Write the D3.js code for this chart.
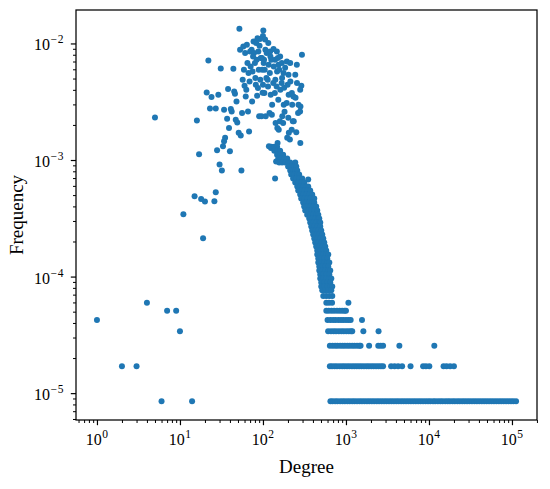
<!DOCTYPE html>
<html><head><meta charset="utf-8">
<script src="https://cdn.jsdelivr.net/npm/d3@7"></script>
<style>body{margin:0;background:#fff}svg{display:block}</style>
</head><body><svg id="c" width="550" height="489"></svg>
<script>
// ---- data: degree / frequency ----
const lowDegree = [1, 2, 3, 4, 5, 6, 7, 9, 10, 11, 14, 15, 16, 17, 18, 19, 20, 26, 27];
const lowFreq = [4.25e-5, 1.70e-5, 1.70e-5, 5.95e-5, 2.32e-3, 8.50e-6, 5.10e-5, 5.10e-5, 3.40e-5, 3.43e-4,
  8.50e-6, 4.89e-4, 2.18e-3, 1.12e-3, 4.64e-4, 2.13e-4, 4.40e-4, 4.42e-4, 5.28e-4];

const clusterDegree = [52, 101, 100, 92, 86, 77, 83, 106, 116, 58, 64, 53, 61, 70, 73, 78, 88, 107, 111, 122,
  134, 147, 97, 123, 140, 161, 76, 84, 22, 31, 44, 65, 71, 80, 102, 117, 135, 154, 169, 194,
  213, 256, 295, 59, 67, 75, 89, 105, 121, 148, 177, 203, 57, 69, 81, 93, 110, 141, 170, 214,
  257, 21, 24, 29, 38, 45, 46, 48, 62, 63, 82, 87, 100, 115, 133, 146, 168, 290, 104, 124,
  139, 162, 204, 223, 233, 281, 74, 178, 193, 268, 280, 23, 27, 34, 41, 42, 56, 66, 90, 96,
  108, 120, 128, 171, 202, 47, 49, 39, 68, 51, 54, 35, 34, 142, 160, 175, 235, 149, 155, 205,
  222, 282, 196, 211, 150, 28, 40, 30, 32, 55, 125, 252, 229, 283, 265, 37, 118, 91, 126, 98,
  157, 185, 114, 180, 99, 153, 225, 198, 245, 129, 85, 60, 182, 247, 103, 151, 94, 33];
const clusterFreq = [1.34e-2, 1.29e-2, 1.16e-2, 1.09e-2, 1.11e-2, 1.04e-2, 1.01e-2, 1.08e-2, 1.01e-2, 9.43e-3,
  9.75e-3, 8.83e-3, 8.28e-3, 8.54e-3, 8.83e-3, 8.28e-3, 8.54e-3, 8.83e-3, 8.28e-3, 8.54e-3,
  8.95e-3, 8.54e-3, 7.50e-3, 7.74e-3, 7.25e-3, 7.74e-3, 7.74e-3, 7.25e-3, 7.15e-3, 6.11e-3,
  6.07e-3, 6.79e-3, 6.35e-3, 6.79e-3, 6.79e-3, 6.57e-3, 6.35e-3, 6.57e-3, 6.79e-3, 7.01e-3,
  6.79e-3, 6.57e-3, 8.00e-3, 5.95e-3, 5.58e-3, 5.75e-3, 5.95e-3, 5.95e-3, 5.58e-3, 5.75e-3,
  5.58e-3, 5.39e-3, 4.89e-3, 4.72e-3, 5.05e-3, 4.89e-3, 5.05e-3, 4.89e-3, 5.05e-3, 4.72e-3,
  4.58e-3, 3.80e-3, 3.47e-3, 3.63e-3, 4.07e-3, 3.88e-3, 3.71e-3, 3.18e-3, 3.51e-3, 4.01e-3,
  4.43e-3, 4.15e-3, 4.43e-3, 4.28e-3, 4.58e-3, 4.28e-3, 4.58e-3, 4.34e-3, 3.76e-3, 3.63e-3,
  3.76e-3, 4.01e-3, 3.63e-3, 3.76e-3, 3.51e-3, 4.01e-3, 3.18e-3, 2.98e-3, 3.09e-3, 2.98e-3,
  2.61e-3, 2.76e-3, 2.76e-3, 2.70e-3, 2.74e-3, 2.61e-3, 2.53e-3, 2.61e-3, 2.37e-3, 2.37e-3,
  2.37e-3, 2.53e-3, 2.45e-3, 2.37e-3, 2.30e-3, 2.22e-3, 2.10e-3, 1.88e-3, 1.76e-3, 1.71e-3,
  1.62e-3, 1.55e-3, 1.45e-3, 2.08e-3, 2.15e-3, 2.08e-3, 2.15e-3, 1.88e-3, 1.82e-3, 1.71e-3,
  1.82e-3, 1.40e-3, 1.55e-3, 1.50e-3, 1.40e-3, 1.21e-3, 1.19e-3, 9.13e-4, 8.11e-4, 8.11e-4,
  1.27e-3, 1.73e-3, 2.15e-3, 2.88e-3, 2.53e-3, 2.26e-3, 1.31e-3, 9.56e-3, 7.25e-3, 5.95e-3,
  5.95e-3, 6.19e-3, 4.89e-3, 4.17e-3, 3.78e-3, 3.29e-3, 2.98e-3, 4.43e-3, 5.39e-3, 2.98e-3,
  3.56e-3, 4.34e-3, 2.60e-3, 3.42e-3, 7.25e-3, 7.50e-3, 7.50e-3, 1.31e-3];

// steep fall-off: one frequency level per row, with the degrees seen on it
const rowFreq = [1.30e-3, 1.20e-3, 1.11e-3, 1.03e-3, 9.70e-4, 9.50e-4, 8.78e-4, 8.11e-4, 7.50e-4, 6.93e-4,
  6.80e-4, 6.40e-4, 5.92e-4, 5.47e-4, 5.05e-4, 4.67e-4, 4.32e-4, 3.99e-4, 3.68e-4, 3.40e-4,
  3.15e-4, 2.91e-4, 2.69e-4, 2.48e-4, 2.30e-4, 2.12e-4, 1.96e-4, 1.81e-4, 1.67e-4, 1.55e-4,
  1.43e-4, 1.32e-4, 1.22e-4, 1.13e-4, 1.04e-4, 9.63e-5, 8.90e-5, 8.22e-5, 7.65e-5, 6.80e-5];
const rowDegrees = [
  [126, 137, 148], [137, 148, 161], [148, 161, 175], [153, 166, 180, 196], [144],
  [157, 170, 185, 201, 213, 245], [201, 219, 238, 252], [213, 231, 245, 259], [219, 238, 259, 273],
  [140, 231, 252, 273, 297], [351], [245, 266, 289, 314], [259, 281, 305, 332, 351],
  [266, 289, 314, 341, 371], [281, 305, 332, 361, 392], [289, 314, 341, 371, 403, 415],
  [305, 332, 361, 392, 415], [314, 341, 371, 403, 438], [323, 351, 382, 415, 451],
  [341, 371, 403, 438, 464], [361, 392, 426, 464, 477], [371, 403, 438, 477, 490],
  [382, 415, 451, 490], [392, 426, 464, 504], [403, 438, 477, 518], [415, 451, 490, 533],
  [426, 464, 504, 548], [438, 477, 518, 563], [451, 490, 533, 579], [451, 490, 533, 579, 612],
  [464, 504, 548, 595], [464, 504, 548, 595, 630], [477, 518, 563, 612], [477, 518, 563, 612, 647],
  [490, 533, 579, 630], [490, 533, 579, 630, 666], [504, 548, 595, 647], [504, 548, 595, 647, 684],
  [518, 563, 612, 666], [533, 579, 630, 684]];

// horizontal bands of the rarest frequencies (1 .. 7 nodes)
const bandFreq = [8.50e-6, 1.70e-5, 2.55e-5, 3.40e-5, 4.25e-5, 5.10e-5, 5.95e-5];
const bandDegrees = [
  [650, 690, 740, 790, 850, 910, 970, 1040, 1110, 1190, 1270, 1360, 1460, 1560, 1670, 1790, 1910,
   2050, 2190, 2350, 2510, 2690, 2880, 3080, 3300, 3530, 3780, 4040, 4320, 4630, 4950, 5300, 5670,
   6070, 6490, 6950, 7430, 7950, 8510, 9110, 9750, 10400, 11200, 11900, 12800, 13700, 14600, 15700,
   16800, 17900, 19200, 20500, 22000, 23500, 25200, 26900, 28800, 30800, 33000, 35300, 37800, 40400,
   43300, 46300, 49500, 53000, 56700, 60700, 64900, 69500, 74300, 79500, 85100, 91000, 97400, 104000, 112000],
  [640, 680, 730, 780, 840, 900, 960, 1030, 1100, 1180, 1260, 1350, 1440, 1540, 1650, 1770, 1890,
   2020, 2160, 2310, 2470, 2640, 2800, 3500, 3850, 4250, 4750, 6000, 8500, 9200, 10100, 15000, 16300, 18000, 20000],
  [640, 690, 740, 790, 850, 910, 970, 1040, 1110, 1190, 1270, 1360, 1450, 1500, 1900, 2450, 2620, 2800, 4400, 11600],
  [610, 660, 710, 760, 820, 880, 940, 1010, 1080, 1150, 1190, 1620, 2470],
  [600, 650, 700, 750, 810, 870, 930, 1000, 1070, 1140, 1560],
  [580, 620, 670, 720, 780, 840, 900, 960, 1000],
  [580, 625, 680, 1070]];

const xTickExp = [0, 1, 2, 3, 4, 5];
const yTickExp = [-5, -4, -3, -2];

// ---- assemble points ----
const pts = [];
lowDegree.forEach((d, i) => pts.push([d, lowFreq[i]]));
clusterDegree.forEach((d, i) => pts.push([d, clusterFreq[i]]));
rowFreq.forEach((f, i) => rowDegrees[i].forEach(d => pts.push([d, f])));
bandFreq.forEach((f, i) => bandDegrees[i].forEach(d => pts.push([d, f])));

const L = 76, R = 537, T = 10, B = 420;
const lxe = d3.extent(pts, p => Math.log10(p[0]));
const lye = d3.extent(pts, p => Math.log10(p[1]));
const px = (lxe[1] - lxe[0]) * 0.05, py = (lye[1] - lye[0]) * 0.05;
const x = d3.scaleLog().domain([10 ** (lxe[0] - px), 10 ** (lxe[1] + px)]).range([L, R]);
const y = d3.scaleLog().domain([10 ** (lye[0] - py), 10 ** (lye[1] + py)]).range([B, T]);

const svg = d3.select("#c");
const font = "'Liberation Serif','Times New Roman',serif";

svg.append("g").selectAll("circle").data(pts).join("circle")
  .attr("cx", p => x(p[0])).attr("cy", p => y(p[1])).attr("r", 3)
  .attr("fill", "#1f77b4");

// minor tick values
function minors(scale, e0, e1) {
  const [a, b] = scale.domain(); const out = [];
  for (let e = e0; e <= e1; e++) for (let k = 2; k <= 9; k++) {
    const v = k * 10 ** e; if (v >= Math.min(a, b) && v <= Math.max(a, b)) out.push(v);
  }
  return out;
}
const xMajor = xTickExp.map(e => 10 ** e), yMajor = yTickExp.map(e => 10 ** e);

function styleAxis(g) { g.select(".domain").remove(); g.selectAll("line").attr("stroke", "#000").attr("stroke-width", 1.2); g.selectAll("text").remove(); }

svg.append("g").attr("transform", `translate(0,${B})`)
  .call(d3.axisBottom(x).tickValues(xMajor).tickSize(5.2).tickFormat("")).call(styleAxis);
svg.append("g").attr("transform", `translate(0,${B})`)
  .call(d3.axisBottom(x).tickValues(minors(x, -1, 5)).tickSize(3).tickFormat("")).call(g => { styleAxis(g); g.selectAll("line").attr("stroke-width", 1); });
svg.append("g").attr("transform", `translate(${L},0)`)
  .call(d3.axisLeft(y).tickValues(yMajor).tickSize(5.2).tickFormat("")).call(styleAxis);
svg.append("g").attr("transform", `translate(${L},0)`)
  .call(d3.axisLeft(y).tickValues(minors(y, -6, -2)).tickSize(3).tickFormat("")).call(g => { styleAxis(g); g.selectAll("line").attr("stroke-width", 1); });

// frame
svg.append("rect").attr("x", L).attr("y", T).attr("width", R - L).attr("height", B - T)
  .attr("fill", "none").attr("stroke", "#000").attr("stroke-width", 1.25);

// tick labels with superscripts
xTickExp.forEach(e => {
  const t = svg.append("text").attr("x", x(10 ** e)).attr("y", 444.5).attr("text-anchor", "middle")
    .attr("font-family", font).attr("font-size", 16).attr("fill", "#000");
  t.append("tspan").text("10");
  t.append("tspan").attr("font-size", 11.5).attr("dx", 0.5).attr("dy", -7).text(String(e));
});
yTickExp.forEach(e => {
  const t = svg.append("text").attr("x", 63.5).attr("y", y(10 ** e) + 7).attr("text-anchor", "end")
    .attr("font-family", font).attr("font-size", 16).attr("fill", "#000");
  t.append("tspan").text("10");
  t.append("tspan").attr("font-size", 11.5).attr("dx", 0.5).attr("dy", -7).text("\u2212");
  t.append("tspan").attr("font-size", 11.5).attr("dx", 0.8).text(String(Math.abs(e)));
});

svg.append("text").attr("x", (L + R) / 2).attr("y", 473).attr("text-anchor", "middle")
  .attr("font-family", font).attr("font-size", 19).attr("fill", "#000").text("Degree");
svg.append("text").attr("transform", `translate(23,${(T + B) / 2}) rotate(-90)`).attr("text-anchor", "middle")
  .attr("font-family", font).attr("font-size", 19).attr("fill", "#000").text("Frequency");
</script></body></html>
